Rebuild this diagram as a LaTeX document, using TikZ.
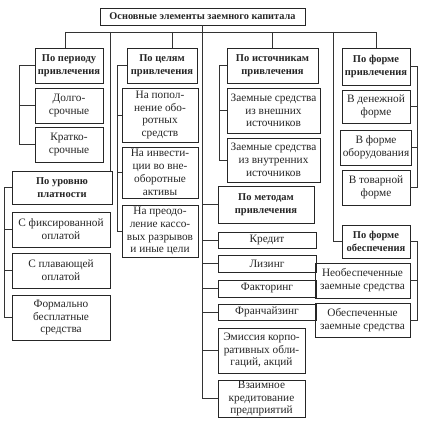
\documentclass[tikz,border=0pt]{standalone}
\usepackage{fontspec}
\setmainfont{Liberation Serif}
\begin{document}
\begin{tikzpicture}[x=1pt,y=-1pt,
  box/.style={draw=black!85, line width=0.7pt, inner sep=0pt, align=center,
    font=\fontsize{11.3}{12.8}\selectfont, text=black!85},
  hdr/.style={box, font=\fontsize{10.5}{12.8}\selectfont\bfseries},
  conn/.style={draw=black!80, line width=0.7pt}]
\useasboundingbox[fill=white] (0,0) rectangle (424,433);
% top
\node[box, font=\fontsize{10.3}{11}\selectfont\bfseries, minimum width=205pt, minimum height=17pt] (top) at (202.5,16.5) {Основные элементы заемного капитала};
% column 1
\node[hdr, minimum width=68pt, minimum height=35pt] (per) at (69,65.5) {По периоду\\привлечения};
\node[box, minimum width=68pt, minimum height=35pt] (dolgo) at (69,105.5) {Долго-\\срочные};
\node[box, minimum width=68pt, minimum height=35pt] (kratko) at (69,144.5) {Кратко-\\срочные};
\node[hdr, minimum width=100pt, minimum height=33pt] (uroven) at (62,187.5) {По уровню\\платности};
\node[box, minimum width=98pt, minimum height=35pt] (fix) at (61,229.5) {С фиксированной\\оплатой};
\node[box, minimum width=98pt, minimum height=35pt] (plav) at (61,270.5) {С плавающей\\оплатой};
\node[box, minimum width=98pt, minimum height=45pt] (formal) at (61,317.5) {Формально\\бесплатные\\средства};
% column 2
\node[hdr, minimum width=70pt, minimum height=35pt] (celi) at (162,65.5) {По целям\\привлечения};
\node[box, minimum width=76pt, minimum height=54pt] (popoln) at (160,115) {На попол-\\нение обо-\\ротных\\средств};
\node[box, minimum width=76pt, minimum height=51pt] (invest) at (160,172.5) {На инвести-\\ции во вне-\\оборотные\\активы};
\node[box, minimum width=76pt, minimum height=52pt] (preodol) at (160,231) {На преодо-\\ление кассо-\\вых разрывов\\и иные цели};
% column 3
\node[hdr, minimum width=91pt, minimum height=35pt] (ist) at (272.5,65.5) {По источникам\\привлечения};
\node[box, minimum width=93pt, minimum height=45pt] (vnesh) at (273.5,110.5) {Заемные средства\\из внешних\\источников};
\node[box, minimum width=93pt, minimum height=44pt] (vnutr) at (273.5,160) {Заемные средства\\из внутренних\\источников};
\node[hdr, minimum width=96pt, minimum height=37pt] (metody) at (266,204.5) {По методам\\привлечения};
\node[box, minimum width=98pt, minimum height=16pt] (kredit) at (267,240) {Кредит};
\node[box, minimum width=98pt, minimum height=17pt] (lizing) at (267,263.5) {Лизинг};
\node[box, minimum width=98pt, minimum height=17pt] (faktoring) at (267,288.5) {Факторинг};
\node[box, minimum width=98pt, minimum height=16pt] (franch) at (267,312) {Франчайзинг};
\node[box, minimum width=87pt, minimum height=45pt] (emissia) at (261.5,350.5) {Эмиссия корпо-\\ративных обли-\\гаций, акций};
\node[box, minimum width=87pt, minimum height=37pt] (vzaim) at (261.5,398.5) {Взаимное\\кредитование\\предприятий};
% column 4
\node[hdr, minimum width=68pt, minimum height=37pt] (formapr) at (376,66.5) {По форме\\привлечения};
\node[box, minimum width=68pt, minimum height=33pt] (den) at (376,106.5) {В денежной\\форме};
\node[box, minimum width=71pt, minimum height=35pt] (obor) at (376,147.5) {В форме\\оборудования};
\node[box, minimum width=68pt, minimum height=35pt] (tovar) at (376,187.5) {В товарной\\форме};
\node[hdr, minimum width=68pt, minimum height=33pt] (formaob) at (376,241.5) {По форме\\обеспечения};
\node[box, minimum width=95pt, minimum height=35pt] (neobesp) at (362.5,280.5) {Необеспеченные\\заемные средства};
\node[box, minimum width=95pt, minimum height=34pt] (obesp) at (362.5,320) {Обеспеченные\\заемные средства};
% connector helpers
\coordinate (hlW) at (65,32);
\coordinate (hlE) at (376,32);
\coordinate (uX) at (110,32);
\coordinate (cX) at (172,32);
\coordinate (fobX) at (333,32);
\coordinate (pb) at (19,0);
\coordinate (ub) at (4,0);
\coordinate (cb) at (117,0);
\coordinate (ib) at (219,0);
\coordinate (rb) at (417,0);
% main connectors
\draw[conn] (hlW) -- (hlE);
\draw[conn] (top.south) -- (top.south |- vzaim.west);
\draw[conn] (hlW) -- (hlW |- per.north);
\draw[conn] (uX) -- (uX |- uroven.north);
\draw[conn] (cX) -- (cX |- celi.north);
\draw[conn] (ist.north) -- (ist.north |- hlW);
\draw[conn] (formapr.north) -- (formapr.north |- hlW);
\draw[conn] (fobX) |- (formaob.west);
% brackets
\draw[conn] (per.west) -- (per.west -| pb) |- (kratko.west);
\draw[conn] (dolgo.west) -- (dolgo.west -| pb);
\draw[conn] (uroven.west) -- (uroven.west -| ub) |- (formal.west);
\draw[conn] (fix.west) -- (fix.west -| ub);
\draw[conn] (plav.west) -- (plav.west -| ub);
\draw[conn] (celi.west) -- (celi.west -| cb) |- (preodol.west);
\draw[conn] (popoln.west) -- (popoln.west -| cb);
\draw[conn] (invest.west) -- (invest.west -| cb);
\draw[conn] (ist.west) -- (ist.west -| ib) |- (vnutr.west);
\draw[conn] (vnesh.west) -- (vnesh.west -| ib);
\foreach \n in {metody,kredit,lizing,faktoring,franch,emissia,vzaim}
  \draw[conn] (\n.west -| top.south) -- (\n.west);
\draw[conn] (formapr.east) -- (formapr.east -| rb) |- (tovar.east);
\draw[conn] (den.east) -- (den.east -| rb);
\draw[conn] (obor.east) -- (obor.east -| rb);
\draw[conn] (formaob.east) -- (formaob.east -| rb) |- (obesp.east);
\draw[conn] (neobesp.east) -- (neobesp.east -| rb);
\end{tikzpicture}
\end{document}
